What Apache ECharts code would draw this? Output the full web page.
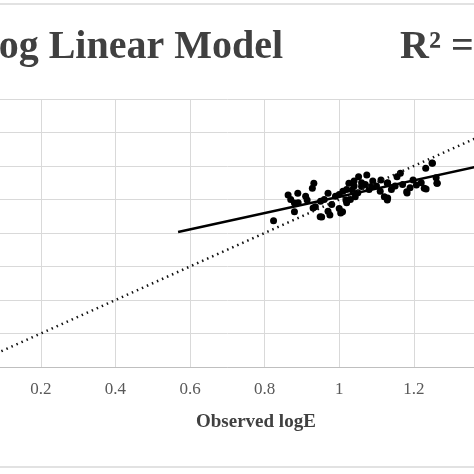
<!DOCTYPE html>
<html><head><meta charset="utf-8">
<script src="https://cdn.jsdelivr.net/npm/echarts@6/dist/echarts.min.js"></script>
<style>html,body{margin:0;padding:0;background:#fff;overflow:hidden;width:474px;height:474px}#c{position:absolute;left:-41px;top:0;width:543px;height:474px}</style>
</head><body><div id="c"></div>
<script>
const xTicks=[0,0.2,0.4,0.6,0.8,1,1.2,1.4];
const obsX=[0.863,0.889,0.932,0.928,0.880,0.880,0.824,0.914,0.936,0.949,0.970,0.975,1.000,1.009,1.018,1.026,1.035,1.052,1.074,1.043,1.060,1.086,1.112,1.129,1.121,1.129,1.155,1.164,1.181,1.207,1.232,1.250,1.228,1.263,1.198,0.953,1.004,1.262,1.233,1.182,1.130,1.249,
0.96,0.99,1.01,1.02,1.04,1.05,1.07,1.08,1.10,1.03,0.98,0.95,0.91,0.93,1.00,1.06,1.11,1.15,1.17,1.19,1.13,0.97,1.02,1.04,1.09,1.14,1.22,1.26,0.89,0.87];
const predY=[1.027,1.037,1.097,1.067,0.979,0.927,0.873,0.997,0.957,0.897,1.037,0.907,0.947,0.927,0.997,1.097,1.057,1.136,1.146,1.017,1.077,1.077,1.116,1.097,1.017,0.997,1.136,1.156,1.047,1.087,1.186,1.216,1.067,1.097,1.116,0.896,0.919,1.097,1.063,1.039,1.009,1.218,
1.00,1.02,1.05,1.06,1.08,1.04,1.09,1.06,1.08,1.00,0.97,0.99,1.02,0.95,1.03,1.10,1.05,1.08,1.09,1.07,1.10,0.93,0.98,1.11,1.11,1.06,1.10,1.13,0.98,1.00];
const fitX=[0.568,1.45];
const fitB=0.529, fitM=0.487;
const identityX=[0,1.5];
const pts=obsX.map((x,i)=>[x,predY[i]]);
const chart=echarts.init(document.getElementById('c'));
const O=41;
chart.setOption({
 animation:false,
 grid:{left:0,right:0,top:99,bottom:107,containLabel:false},
 xAxis:{type:'value',min:0,max:1.4,interval:0.2,
  axisLine:{show:true,lineStyle:{color:'#bfbfbf'}},axisTick:{show:false},
  axisLabel:{color:'#595959',fontFamily:'Liberation Serif',fontSize:17,margin:14,formatter:v=>(Math.round(v*10)/10).toString()},
  splitLine:{show:true,lineStyle:{color:'#d9d9d9'}}},
 yAxis:{type:'value',min:0,max:1.6,interval:0.2,axisLabel:{show:false},axisLine:{show:false},axisTick:{show:false},
  splitLine:{show:true,lineStyle:{color:'#d9d9d9'}}},
 series:[
  {type:'line',data:identityX.map(x=>[x,x]),symbol:'none',lineStyle:{color:'#111',width:2.5,type:[1.5,4]},clip:true},
  {type:'line',data:fitX.map(x=>[x,fitB+fitM*x]),symbol:'none',lineStyle:{color:'#000',width:2.5},clip:true},
  {type:'scatter',data:pts,symbolSize:7,itemStyle:{color:'#000',opacity:1}}
 ],
 graphic:[
  {type:'line',shape:{x1:0,y1:4,x2:543,y2:4},style:{stroke:'#d9d9d9',lineWidth:1.5}},
  {type:'line',shape:{x1:0,y1:467,x2:543,y2:467},style:{stroke:'#d9d9d9',lineWidth:1.5}},
  {type:'text',left:O-28,top:28,style:{text:'Log Linear Model',font:'bold 40px "Liberation Serif"',fill:'#404040'}},
  {type:'text',left:O+400,top:28,style:{text:'R² = 0.',font:'bold 40px "Liberation Serif"',fill:'#404040'}},
  {type:'text',left:O+196,top:413,style:{text:'Observed logE',font:'bold 19px "Liberation Serif"',fill:'#404040'}}
 ]
});
</script></body></html>
